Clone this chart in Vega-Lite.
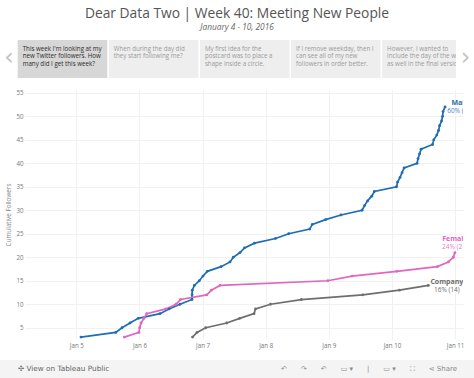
{
  "$schema": "https://vega.github.io/schema/vega-lite/v6.json",
  "padding": {"left": 0, "top": 6, "right": 0, "bottom": 0},
  "background": "white",
  "title": {
    "text": "Dear Data Two | Week 40: Meeting New People",
    "subtitle": "January 4 - 10, 2016",
    "anchor": "middle",
    "frame": "bounds",
    "font": "Open Sans",
    "fontSize": 13.8,
    "fontWeight": "normal",
    "color": "#555555",
    "subtitleFont": "Open Sans",
    "subtitleFontSize": 8.3,
    "subtitleFontStyle": "italic",
    "subtitleColor": "#666666",
    "subtitlePadding": 2,
    "offset": 9
  },
  "config": {
    "view": {"stroke": null},
    "font": "Open Sans"
  },
  "resolve": {"scale": {"color": "independent", "fill": "independent"}},
  "datasets": {
    "followers": [
      {"series": "Male", "time": "2016-01-05T01:47", "followers": 3},
      {"series": "Male", "time": "2016-01-05T15:00", "followers": 4},
      {"series": "Male", "time": "2016-01-05T17:23", "followers": 5},
      {"series": "Male", "time": "2016-01-05T20:25", "followers": 6},
      {"series": "Male", "time": "2016-01-05T23:34", "followers": 7},
      {"series": "Male", "time": "2016-01-06T07:49", "followers": 8},
      {"series": "Male", "time": "2016-01-06T11:15", "followers": 9},
      {"series": "Male", "time": "2016-01-06T15:26", "followers": 10},
      {"series": "Male", "time": "2016-01-06T19:59", "followers": 11},
      {"series": "Male", "time": "2016-01-06T20:00", "followers": 12},
      {"series": "Male", "time": "2016-01-06T20:06", "followers": 13},
      {"series": "Male", "time": "2016-01-06T20:52", "followers": 14},
      {"series": "Male", "time": "2016-01-06T22:46", "followers": 15},
      {"series": "Male", "time": "2016-01-07T00:10", "followers": 16},
      {"series": "Male", "time": "2016-01-07T01:48", "followers": 17},
      {"series": "Male", "time": "2016-01-07T07:01", "followers": 18},
      {"series": "Male", "time": "2016-01-07T10:26", "followers": 19},
      {"series": "Male", "time": "2016-01-07T11:41", "followers": 20},
      {"series": "Male", "time": "2016-01-07T14:14", "followers": 21},
      {"series": "Male", "time": "2016-01-07T15:57", "followers": 22},
      {"series": "Male", "time": "2016-01-07T19:45", "followers": 23},
      {"series": "Male", "time": "2016-01-08T03:44", "followers": 24},
      {"series": "Male", "time": "2016-01-08T08:45", "followers": 25},
      {"series": "Male", "time": "2016-01-08T16:44", "followers": 26},
      {"series": "Male", "time": "2016-01-08T17:44", "followers": 27},
      {"series": "Male", "time": "2016-01-08T22:45", "followers": 28},
      {"series": "Male", "time": "2016-01-09T04:38", "followers": 29},
      {"series": "Male", "time": "2016-01-09T12:37", "followers": 30},
      {"series": "Male", "time": "2016-01-09T13:35", "followers": 31},
      {"series": "Male", "time": "2016-01-09T14:43", "followers": 32},
      {"series": "Male", "time": "2016-01-09T16:19", "followers": 33},
      {"series": "Male", "time": "2016-01-09T17:18", "followers": 34},
      {"series": "Male", "time": "2016-01-10T01:44", "followers": 35},
      {"series": "Male", "time": "2016-01-10T02:07", "followers": 36},
      {"series": "Male", "time": "2016-01-10T03:04", "followers": 37},
      {"series": "Male", "time": "2016-01-10T03:50", "followers": 38},
      {"series": "Male", "time": "2016-01-10T04:36", "followers": 39},
      {"series": "Male", "time": "2016-01-10T09:32", "followers": 40},
      {"series": "Male", "time": "2016-01-10T09:55", "followers": 41},
      {"series": "Male", "time": "2016-01-10T10:29", "followers": 42},
      {"series": "Male", "time": "2016-01-10T11:04", "followers": 43},
      {"series": "Male", "time": "2016-01-10T15:26", "followers": 44},
      {"series": "Male", "time": "2016-01-10T15:53", "followers": 45},
      {"series": "Male", "time": "2016-01-10T17:02", "followers": 46},
      {"series": "Male", "time": "2016-01-10T17:43", "followers": 47},
      {"series": "Male", "time": "2016-01-10T18:05", "followers": 48},
      {"series": "Male", "time": "2016-01-10T18:51", "followers": 49},
      {"series": "Male", "time": "2016-01-10T19:14", "followers": 50},
      {"series": "Male", "time": "2016-01-10T19:25", "followers": 51},
      {"series": "Male", "time": "2016-01-10T20:11", "followers": 52},
      {"series": "Female", "time": "2016-01-05T18:15", "followers": 3},
      {"series": "Female", "time": "2016-01-05T23:50", "followers": 4},
      {"series": "Female", "time": "2016-01-06T00:05", "followers": 5},
      {"series": "Female", "time": "2016-01-06T00:36", "followers": 6},
      {"series": "Female", "time": "2016-01-06T01:44", "followers": 7},
      {"series": "Female", "time": "2016-01-06T02:46", "followers": 8},
      {"series": "Female", "time": "2016-01-06T10:06", "followers": 9},
      {"series": "Female", "time": "2016-01-06T13:54", "followers": 10},
      {"series": "Female", "time": "2016-01-06T15:37", "followers": 11},
      {"series": "Female", "time": "2016-01-07T01:35", "followers": 12},
      {"series": "Female", "time": "2016-01-07T03:20", "followers": 13},
      {"series": "Female", "time": "2016-01-07T06:38", "followers": 14},
      {"series": "Female", "time": "2016-01-08T23:37", "followers": 15},
      {"series": "Female", "time": "2016-01-09T08:49", "followers": 16},
      {"series": "Female", "time": "2016-01-10T01:49", "followers": 17},
      {"series": "Female", "time": "2016-01-10T17:15", "followers": 18},
      {"series": "Female", "time": "2016-01-10T21:26", "followers": 19},
      {"series": "Female", "time": "2016-01-10T23:20", "followers": 20},
      {"series": "Female", "time": "2016-01-10T23:55", "followers": 21},
      {"series": "Company", "time": "2016-01-06T20:11", "followers": 3},
      {"series": "Company", "time": "2016-01-06T21:53", "followers": 4},
      {"series": "Company", "time": "2016-01-07T01:12", "followers": 5},
      {"series": "Company", "time": "2016-01-07T09:11", "followers": 6},
      {"series": "Company", "time": "2016-01-07T14:07", "followers": 7},
      {"series": "Company", "time": "2016-01-07T19:34", "followers": 8},
      {"series": "Company", "time": "2016-01-07T20:08", "followers": 9},
      {"series": "Company", "time": "2016-01-08T01:50", "followers": 10},
      {"series": "Company", "time": "2016-01-08T13:33", "followers": 11},
      {"series": "Company", "time": "2016-01-09T12:53", "followers": 12},
      {"series": "Company", "time": "2016-01-10T02:49", "followers": 13},
      {"series": "Company", "time": "2016-01-10T13:50", "followers": 14}
    ],
    "endLabels": [
      {"series": "Male", "time": "2016-01-10T20:11", "followers": 52, "name": "Male", "share": "60% (52)"},
      {"series": "Female", "time": "2016-01-10T23:55", "followers": 21, "name": "Female", "share": "24% (21)"},
      {"series": "Company", "time": "2016-01-10T13:50", "followers": 14, "name": "Company", "share": "16% (14)"}
    ],
    "cards": [
      {"card": 1, "status": "current", "text": "This week I'm looking at my\nnew Twitter followers. How\nmany did I get this week?"},
      {"card": 2, "status": "other", "text": "When during the day did\nthey start following me?"},
      {"card": 3, "status": "other", "text": "My first idea for the\npostcard was to place a\nshape inside a circle."},
      {"card": 4, "status": "other", "text": "If I remove weekday, then I\ncan see all of my new\nfollowers in order better."},
      {"card": 5, "status": "other", "text": "However, I wanted to\ninclude the day of the week\nas well in the final version."}
    ],
    "arrows": [
      {"side": "prev", "glyph": "‹"},
      {"side": "next", "glyph": "›"}
    ],
    "footerBar": [
      {"bar": "toolbar"}
    ],
    "footerLeft": [
      {"item": "left", "label": "✣  View on Tableau Public"}
    ],
    "footerRight": [
      {"item": "right", "label": "↶\u2003\u2003↷\u2003\u2003↶\u2003\u2003▭ ▾\u2003\u2003|\u2003\u2003▭ ▾\u2003\u2003⛶\u2003\u2003⋖ Share"}
    ]
  },
  "concat": [
    {
      "width": 431,
      "height": 38,
      "layer": [
        {
          "layer": [
            {
              "data": {"name": "cards"},
              "transform": [{"filter": "datum.card < 5"}],
              "mark": {"type": "rect"},
              "encoding": {
                "x": {"field": "card", "type": "ordinal", "scale": {"type": "band", "domain": [1, 2, 3, 4, 5], "range": [-7.3, 446.7], "paddingInner": 0.017, "paddingOuter": 0}, "axis": null},
                "fill": {"field": "status", "type": "nominal", "scale": {"domain": ["current", "other"], "range": ["#d7d7d7", "#eeeeee"]}, "legend": null}
              }
            },
            {
              "data": {"name": "cards"},
              "transform": [{"filter": "datum.card == 5"}],
              "mark": {"type": "rect", "clip": true},
              "encoding": {
                "x": {"field": "card", "type": "ordinal", "axis": null},
                "fill": {"field": "status", "type": "nominal", "legend": null}
              }
            },
            {
              "data": {"name": "cards"},
              "transform": [{"filter": "datum.card < 5"}],
              "mark": {"type": "text", "align": "left", "baseline": "top", "dx": -39.8, "dy": -13.5, "fontSize": 6.2, "lineBreak": "\n", "lineHeight": 7.5},
              "encoding": {
                "x": {"field": "card", "type": "ordinal", "axis": null},
                "text": {"field": "text", "type": "nominal"},
                "color": {"field": "status", "type": "nominal", "scale": {"domain": ["current", "other"], "range": ["#2b2b2b", "#9a9a9a"]}, "legend": null}
              }
            },
            {
              "data": {"name": "cards"},
              "transform": [{"filter": "datum.card == 5"}],
              "mark": {"type": "text", "clip": true, "align": "left", "baseline": "top", "dx": -39.8, "dy": -13.5, "fontSize": 6.2, "lineBreak": "\n", "lineHeight": 7.5},
              "encoding": {
                "x": {"field": "card", "type": "ordinal", "axis": null},
                "text": {"field": "text", "type": "nominal"},
                "color": {"field": "status", "type": "nominal", "legend": null}
              }
            }
          ]
        },
        {
          "data": {"name": "arrows"},
          "mark": {"type": "text", "fontSize": 24, "font": "DejaVu Sans", "color": "#c4c4c4", "baseline": "middle", "align": "center", "dy": -1},
          "encoding": {
            "text": {"field": "glyph", "type": "nominal"},
            "x": {"field": "side", "type": "nominal", "scale": {"type": "point", "domain": ["prev", "next"], "range": [-16, 440.5], "padding": 0}, "axis": null}
          }
        }
      ],
      "resolve": {"scale": {"x": "independent"}}
    },
    {
      "width": 438,
      "height": 249,
      "layer": [
        {
          "data": {"name": "followers"},
          "mark": {"type": "line", "strokeWidth": 1.7, "clip": true},
          "encoding": {
            "x": {"field": "time", "type": "temporal"},
            "y": {"field": "followers", "type": "quantitative"},
            "color": {"field": "series", "type": "nominal"}
          }
        },
        {
          "data": {"name": "followers"},
          "mark": {"type": "circle", "size": 8, "opacity": 1, "clip": true},
          "encoding": {
            "x": {"field": "time", "type": "temporal"},
            "y": {"field": "followers", "type": "quantitative"},
            "color": {"field": "series", "type": "nominal"}
          }
        },
        {
          "data": {"name": "endLabels"},
          "transform": [{"filter": "datum.series == 'Male'"}],
          "mark": {"type": "text", "clip": true, "fontSize": 7, "fontWeight": "bold", "dx": 15, "dy": -3.5, "align": "center", "baseline": "middle"},
          "encoding": {
            "x": {"field": "time", "type": "temporal"},
            "y": {"field": "followers", "type": "quantitative"},
            "color": {"field": "series", "type": "nominal"},
            "text": {"field": "name"}
          }
        },
        {
          "data": {"name": "endLabels"},
          "transform": [{"filter": "datum.series == 'Male'"}],
          "mark": {"type": "text", "clip": true, "fontSize": 6.5, "dx": 15, "dy": 4, "align": "center", "baseline": "middle", "opacity": 0.85},
          "encoding": {
            "x": {"field": "time", "type": "temporal"},
            "y": {"field": "followers", "type": "quantitative"},
            "color": {"field": "series", "type": "nominal"},
            "text": {"field": "share"}
          }
        },
        {
          "data": {"name": "endLabels"},
          "transform": [{"filter": "datum.series == 'Female'"}],
          "mark": {"type": "text", "clip": true, "fontSize": 7, "fontWeight": "bold", "dx": 0, "dy": -13.5, "align": "center", "baseline": "middle"},
          "encoding": {
            "x": {"field": "time", "type": "temporal"},
            "y": {"field": "followers", "type": "quantitative"},
            "color": {"field": "series", "type": "nominal"},
            "text": {"field": "name"}
          }
        },
        {
          "data": {"name": "endLabels"},
          "transform": [{"filter": "datum.series == 'Female'"}],
          "mark": {"type": "text", "clip": true, "fontSize": 6.5, "dx": 0, "dy": -6, "align": "center", "baseline": "middle", "opacity": 0.85},
          "encoding": {
            "x": {"field": "time", "type": "temporal"},
            "y": {"field": "followers", "type": "quantitative"},
            "color": {"field": "series", "type": "nominal"},
            "text": {"field": "share"}
          }
        },
        {
          "data": {"name": "endLabels"},
          "transform": [{"filter": "datum.series == 'Company'"}],
          "mark": {"type": "text", "clip": true, "fontSize": 7, "fontWeight": "bold", "dx": 18.5, "dy": -3.5, "align": "center", "baseline": "middle", "color": "#555555"},
          "encoding": {
            "x": {"field": "time", "type": "temporal"},
            "y": {"field": "followers", "type": "quantitative"},
            "text": {"field": "name"}
          }
        },
        {
          "data": {"name": "endLabels"},
          "transform": [{"filter": "datum.series == 'Company'"}],
          "mark": {"type": "text", "clip": true, "fontSize": 6.5, "dx": 18.5, "dy": 4.5, "align": "center", "baseline": "middle", "color": "#777777"},
          "encoding": {
            "x": {"field": "time", "type": "temporal"},
            "y": {"field": "followers", "type": "quantitative"},
            "text": {"field": "share"}
          }
        }
      ],
      "encoding": {
        "x": {
          "field": "time",
          "type": "temporal",
          "scale": {"domain": [{"year": 2016, "month": 1, "date": 4, "hours": 4, "minutes": 30}, {"year": 2016, "month": 1, "date": 11, "hours": 3, "minutes": 0}], "nice": false},
          "axis": {"title": null, "format": "%b %-d", "tickCount": {"interval": "day", "step": 1}, "grid": true, "gridColor": "#f1f1f1", "domain": false, "ticks": false, "labelFontSize": 6.2, "labelColor": "#777777", "labelPadding": 3, "labelFlush": false}
        },
        "y": {
          "field": "followers",
          "type": "quantitative",
          "scale": {"domain": [2.6, 55.6], "nice": false, "zero": false},
          "axis": {"title": "Cumulative Followers", "values": [5, 10, 15, 20, 25, 30, 35, 40, 45, 50, 55], "grid": true, "gridColor": "#f1f1f1", "domain": false, "ticks": false, "labelFontSize": 6.2, "labelColor": "#777777", "labelPadding": 2, "titleFontSize": 6.3, "titleFontWeight": "normal", "titleColor": "#888888", "titlePadding": 4}
        },
        "color": {
          "field": "series",
          "type": "nominal",
          "scale": {"domain": ["Male", "Female", "Company"], "range": ["#1f6db2", "#e066c2", "#6e6e6e"]},
          "legend": null
        }
      }
    },
    {
      "width": 449,
      "height": 18,
      "layer": [
        {
          "data": {"name": "footerBar"},
          "mark": {"type": "rect", "color": "#f4f4f4"},
          "encoding": {
            "x": {"field": "bar", "type": "nominal", "scale": {"type": "band", "range": [-25, 449], "paddingInner": 0, "paddingOuter": 0}, "axis": null}
          }
        },
        {
          "data": {"name": "footerLeft"},
          "mark": {"type": "text", "align": "left", "baseline": "middle", "fontSize": 7.3, "font": "DejaVu Sans", "color": "#666666"},
          "encoding": {
            "x": {"field": "item", "type": "nominal", "scale": {"type": "point", "range": [-7, -7], "padding": 0}, "axis": null},
            "text": {"field": "label", "type": "nominal"}
          }
        },
        {
          "data": {"name": "footerRight"},
          "mark": {"type": "text", "align": "right", "baseline": "middle", "fontSize": 7, "font": "DejaVu Sans", "color": "#8a8a8a"},
          "encoding": {
            "x": {"field": "item", "type": "nominal", "scale": {"type": "point", "range": [432, 432], "padding": 0}, "axis": null},
            "text": {"field": "label", "type": "nominal"}
          }
        }
      ],
      "resolve": {"scale": {"x": "independent"}}
    }
  ],
  "columns": 1,
  "spacing": 11
}
